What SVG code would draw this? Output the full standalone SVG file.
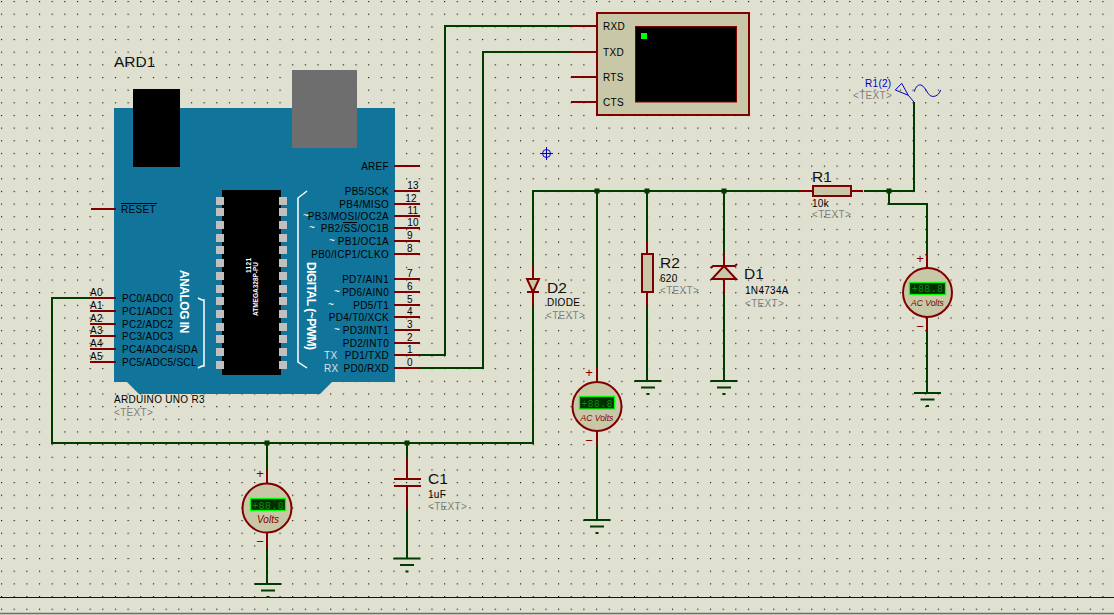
<svg xmlns="http://www.w3.org/2000/svg" width="1114" height="615" viewBox="0 0 1114 615">
<style>
text{font-family:"Liberation Sans",Arial,sans-serif;font-size:10px;letter-spacing:.3px;fill:#000}
.r{text-anchor:end}
.big{font-size:15.500px;letter-spacing:0;fill:#111}
.g{fill:#808080}
.w{fill:none;stroke:#003c00;stroke-width:2}
.p{fill:none;stroke:#800000;stroke-width:2}
.b{fill:#c8c8a8;stroke:#800000;stroke-width:2}
.gnd{fill:none;stroke:#003c00;stroke-width:2}
.pin{fill:#c0c0c0}
.j{fill:#003c00}
.wh{fill:none;stroke:#fff;stroke-width:1.5}
.disp{fill:#003000;stroke:#00ff00;stroke-width:1.3}
.dt{font-family:"Liberation Mono",monospace;font-size:10px;fill:#0c8c0c;text-anchor:middle;letter-spacing:.3px}
.mt{font-size:8.5px;font-style:italic;fill:#800000;text-anchor:middle;letter-spacing:0}
.sg{fill:#800000;font-size:13px;text-anchor:middle;letter-spacing:0}
.bl{fill:#0000c0}
.lb{font-size:12px;font-weight:bold;fill:#fff;letter-spacing:-.5px}
</style>
<defs>
<pattern id="grid" width="12.66" height="12.66" patternUnits="userSpaceOnUse"><rect x="1" y="1" width="1.1" height="1.1" fill="#000"/></pattern>
<g id="gs"><path class="gnd" d="M-13.500 0H13.500M-7 6.500H7M-1.500 13H1.500"/></g>
</defs>
<rect width="1114" height="615" fill="#dfe0d0"/>
<rect width="1114" height="597" fill="url(#grid)"/>
<rect y="600" width="1114" height="12" fill="url(#grid)"/>
<path d="M0 597.500H1114" stroke="#0000c0" stroke-width="1"/>
<path d="M0 613.500H1114" stroke="#6e6e6e" stroke-width="1.500"/>

<g id="ARD1">
<text x="114" y="67" class="big">ARD1</text>
<path d="M114 108H395V382H332L320 394H139L127 382H114Z" fill="#11749a"/>
<rect x="133" y="89" width="47" height="78" fill="#000"/>
<rect x="292" y="70" width="65" height="78" fill="#6e6e6e"/>
<rect x="222" y="190" width="59" height="185" fill="#000"/>
<g class="pin">
<rect x="216" y="197" width="8" height="8"/><rect x="216" y="208" width="8" height="8"/><rect x="216" y="221" width="8" height="8"/><rect x="216" y="234" width="8" height="8"/><rect x="216" y="246" width="8" height="8"/><rect x="216" y="259" width="8" height="8"/><rect x="216" y="272" width="8" height="8"/><rect x="216" y="285" width="8" height="8"/><rect x="216" y="297" width="8" height="8"/><rect x="216" y="310" width="8" height="8"/><rect x="216" y="323" width="8" height="8"/><rect x="216" y="335" width="8" height="8"/><rect x="216" y="348" width="8" height="8"/><rect x="216" y="361" width="8" height="8"/>
<rect x="279" y="197" width="8" height="8"/><rect x="279" y="208" width="8" height="8"/><rect x="279" y="221" width="8" height="8"/><rect x="279" y="234" width="8" height="8"/><rect x="279" y="246" width="8" height="8"/><rect x="279" y="259" width="8" height="8"/><rect x="279" y="272" width="8" height="8"/><rect x="279" y="285" width="8" height="8"/><rect x="279" y="297" width="8" height="8"/><rect x="279" y="310" width="8" height="8"/><rect x="279" y="323" width="8" height="8"/><rect x="279" y="335" width="8" height="8"/><rect x="279" y="348" width="8" height="8"/><rect x="279" y="361" width="8" height="8"/>
</g>
<text transform="translate(251 273) rotate(-90)" style="font-size:6.500px;font-weight:bold;fill:#fff">1121</text>
<text transform="translate(258 316) rotate(-90)" style="font-size:6.500px;font-weight:bold;fill:#fff;letter-spacing:0">ATMEGA328P-PU</text>
<path class="wh" d="M198 298L202 300H204V366L202 366L198 368"/>
<path class="wh" d="M307 191L298 198V362L307 368"/>
<text transform="translate(180 270) rotate(90)" class="lb">ANALOG IN</text>
<text transform="translate(307 262) rotate(90)" class="lb">DIGITAL (~PWM)</text>
<path class="p" d="M91 209H116M90 298H116M90 311H116M90 324H116M90 336H116M90 349H116M90 362H116M394 166H420M394 191H420M394 204H420M394 216H420M394 228H420M394 241H420M394 254H420M394 279H420M394 292H420M394 305H420M394 317H420M394 330H420M394 343H420M394 355H420M394 368H420"/>
<text x="121" y="213">RESET</text><path d="M121 203.500H157" stroke="#000" stroke-width="1"/>
<text x="90" y="296">A0</text><text x="90" y="309">A1</text><text x="90" y="322">A2</text><text x="90" y="334">A3</text><text x="90" y="347">A4</text><text x="90" y="360">A5</text>
<text x="122" y="302">PC0/ADC0</text><text x="122" y="315">PC1/ADC1</text><text x="122" y="328">PC2/ADC2</text><text x="122" y="340">PC3/ADC3</text><text x="122" y="353">PC4/ADC4/SDA</text><text x="122" y="366">PC5/ADC5/SCL</text>
<text x="389" y="170" class="r">AREF</text>
<text x="389" y="195" class="r">PB5/SCK</text><text x="389" y="208" class="r">PB4/MISO</text><text x="389" y="220" class="r">PB3/MOSI/OC2A</text><text x="389" y="232" class="r">PB2/SS/OC1B</text><text x="389" y="245" class="r">PB1/OC1A</text><text x="389" y="258" class="r">PB0/ICP1/CLKO</text>
<text x="389" y="283" class="r">PD7/AIN1</text><text x="389" y="296" class="r">PD6/AIN0</text><text x="389" y="309" class="r">PD5/T1</text><text x="389" y="321" class="r">PD4/T0/XCK</text><text x="389" y="334" class="r">PD3/INT1</text><text x="389" y="347" class="r">PD2/INT0</text><text x="389" y="359" class="r">PD1/TXD</text><text x="389" y="372" class="r">PD0/RXD</text>
<path d="M343 222.500H357" stroke="#000" stroke-width="1"/>
<text x="303" y="219" style="fill:#fff">~</text><text x="309" y="231" style="fill:#fff">~</text><text x="329" y="244" style="fill:#fff">~</text><text x="334" y="295" style="fill:#fff">~</text><text x="328" y="308" style="fill:#fff">~</text><text x="334" y="333" style="fill:#fff">~</text>
<text x="324" y="359" style="fill:#e0e0e0">TX</text><text x="324" y="372" style="fill:#e0e0e0">RX</text>
<g text-anchor="middle">
<text x="413" y="188.500">13</text><text x="411" y="201.500">12</text><text x="413" y="213.500">11</text><text x="413" y="225.500">10</text><text x="410" y="238.500">9</text><text x="410" y="251.500">8</text><text x="410" y="276.500">7</text><text x="410" y="289.500">6</text><text x="410" y="302.500">5</text><text x="410" y="314.500">4</text><text x="410" y="327.500">3</text><text x="410" y="340.500">2</text><text x="410" y="352.500">1</text><text x="410" y="365.500">0</text>
</g>
<text x="114" y="403">ARDUINO UNO R3</text>
<text x="114" y="416" class="g">&lt;TEXT&gt;</text>
</g>

<g id="connectors">
<path class="w" d="M90 298H52V443H533V191H812M420 355H445V26H571M420 368H483V52H571M267 443V470M407 443V457M597 191V368M647 191V241M724 191V254M864 191H914V102M889 191V204H927V254M533 191V266M267 547V584M407 509V558M647 305V380M724 293V380M597 445V520M927 331V393"/>
<path class="j" d="M264.500 440.500h5v5h-5zM404.500 440.500h5v5h-5zM594.500 188.500h5v5h-5zM644.500 188.500h5v5h-5zM721.500 188.500h5v5h-5zM886.500 188.500h5v5h-5z"/>
</g>

<g id="TERMINAL">
<rect x="597" y="13" width="152" height="102" class="b"/>
<rect x="635.500" y="26.500" width="101" height="75.500" fill="#000" stroke="#800000"/>
<rect x="641" y="33" width="6" height="6" fill="#00ff00"/>
<path class="p" d="M571 26H597M571 52H597M571 77H597M571 102H597"/>
<text x="603" y="30">RXD</text><text x="603" y="56">TXD</text><text x="603" y="81">RTS</text><text x="603" y="106">CTS</text>
</g>

<g id="PROBE" fill="none" stroke="#0000c0" stroke-width="1">
<path d="M895.300 90L901.700 83.300L908.300 95.300ZM908.300 95.300L914 102"/>
<path d="M914.300 91.700C915.500 86.500 919 83.500 922 85.500C925.500 87.500 927 93 930 95.500C933 97.500 938.500 96.500 940.700 90"/>
<text x="865" y="87" class="bl" stroke="none">R1(2)</text>
<text x="853" y="99" class="g" stroke="none">&lt;TEXT&gt;</text>
</g>

<g id="R1">
<path class="p" d="M800 191H812M852 191H863"/>
<rect x="813" y="186" width="38" height="10" class="b"/>
<text x="812" y="182" class="big">R1</text>
<text x="812" y="207">10k</text>
<text x="812" y="218" class="g">&lt;TEXT&gt;</text>
</g>

<g id="R2">
<path class="p" d="M647 241V254M647 292V305"/>
<rect x="642" y="254" width="11" height="38" class="b"/>
<text x="660" y="268" class="big">R2</text>
<text x="660" y="282">620</text>
<text x="660" y="294" class="g">&lt;TEXT&gt;</text>
<use href="#gs" x="648" y="381"/>
</g>

<g id="D1">
<path class="p" d="M724 254V293"/>
<path class="b" d="M724 266L736 279H712Z"/>
<path class="p" d="M711 279H737M711 268L713 266H735L737 264"/>
<text x="744" y="279" class="big">D1</text>
<text x="745" y="294">1N4734A</text>
<text x="745" y="307" class="g">&lt;TEXT&gt;</text>
<use href="#gs" x="724" y="381"/>
</g>

<g id="D2">
<path class="p" d="M533 266V305M527 292H539"/>
<path class="b" d="M527 279H539L533 292Z"/>
<text x="547" y="293" class="big">D2</text>
<text x="547" y="306">DIODE</text>
<text x="546" y="319" class="g">&lt;TEXT&gt;</text>
</g>

<g id="C1">
<path class="p" d="M407 457V479M407 486V509M394 479H421M394 486H421"/>
<text x="428" y="484" class="big">C1</text>
<text x="428" y="498">1uF</text>
<text x="428" y="510" class="g">&lt;TEXT&gt;</text>
<use href="#gs" x="407" y="558.500"/>
</g>

<g id="VM1">
<path class="p" d="M927 254V268M927 317V331"/>
<circle cx="927.500" cy="292.500" r="24.500" class="b"/>
<rect x="909.500" y="282.500" width="36" height="12" class="disp"/>
<text x="927.500" y="292" class="dt">+88.8</text>
<text x="927.500" y="306" class="mt">AC Volts</text>
<text x="920" y="263" class="sg">+</text><text x="920" y="331" class="sg">−</text>
<use href="#gs" x="927.500" y="393"/>
</g>

<g id="VM2">
<path class="p" d="M597 368V382M597 431V445"/>
<circle cx="597" cy="406.500" r="24.500" class="b"/>
<rect x="579.500" y="396.500" width="35" height="12.500" class="disp"/>
<text x="597" y="406.500" class="dt">+88.8</text>
<text x="597" y="421" class="mt">AC Volts</text>
<text x="589" y="377" class="sg">+</text><text x="589" y="445" class="sg">−</text>
<use href="#gs" x="597" y="520"/>
</g>

<g id="VM3">
<path class="p" d="M267 470V483M267 533V547"/>
<circle cx="267" cy="508" r="24.500" class="b"/>
<rect x="250.500" y="498.500" width="35" height="12" class="disp"/>
<text x="268" y="508.500" class="dt">+88.8</text>
<text x="268" y="523" class="mt" style="font-size:10px">Volts</text>
<text x="260" y="478" class="sg">+</text><text x="260" y="546" class="sg">−</text>
<use href="#gs" x="268" y="584"/>
</g>

<g id="ORIGIN" fill="none" stroke="#0000c0" stroke-width="1">
<circle cx="546.500" cy="153.500" r="4"/>
<path d="M546.500 147V160M540 153.500H553"/>
</g>
</svg>
